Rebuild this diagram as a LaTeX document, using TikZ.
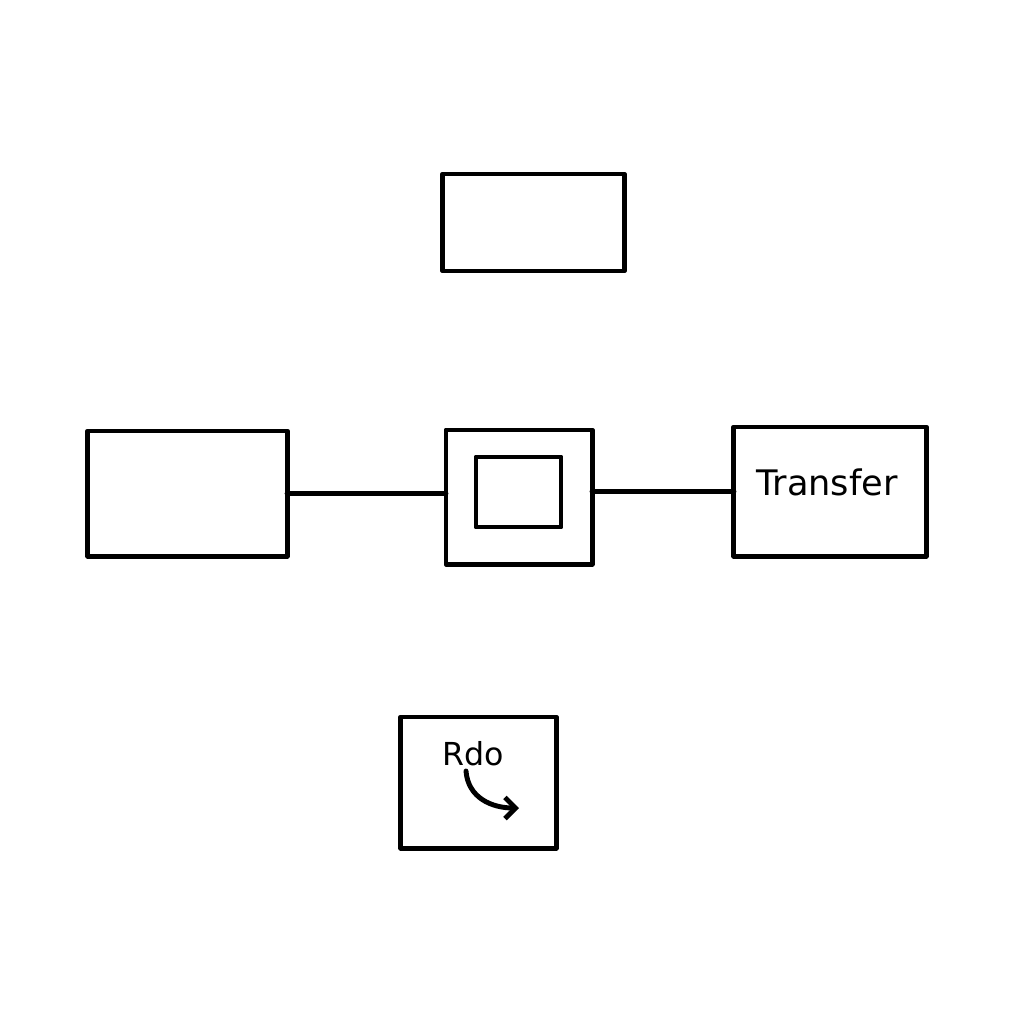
\documentclass[tikz,border=0pt]{standalone}
\usepackage{fontspec}
\setsansfont{DejaVu Sans}
\usetikzlibrary{positioning,arrows.meta}

\tikzset{box/.style={draw, line width=1.4pt, line join=round, inner sep=0pt, outer sep=0pt},
         link/.style={line width=1.4pt, line cap=round}}

\begin{document}
\begin{tikzpicture}[x=0.01cm,y=-0.01cm,every node/.append style={font=\sffamily\fontsize{10}{12}\selectfont}]
    \useasboundingbox (0,0) rectangle (1024,1024);
    % boxes
    \node[box, minimum width=1.81cm, minimum height=0.97cm] (top) at (533.5,222.5) {};
    \node[box, minimum width=1.99cm, minimum height=1.25cm] (left) at (187.5,493.5) {};
    \node[box, minimum width=1.46cm, minimum height=1.34cm] (hub) at (519,497) {};
    \node[box, minimum width=0.85cm, minimum height=0.70cm] (hubin) at (518.5,492) {};
    \node[box, minimum width=1.92cm, minimum height=1.29cm] (transfer) at (830,491.5) {};
    \node[box, minimum width=1.55cm, minimum height=1.31cm] (rdo) at (478.5,782.5) {};
    % labels
    \node (transferlabel) at (827,482) {Transfer};
    \node[font=\sffamily\fontsize{9}{11}\selectfont] (rdolabel) at (473,754) {Rdo};
    % connectors
    \draw[link] (left.east) -- (left.east -| hub.west);
    \draw[link] (transfer.west -| hub.east) -- (transfer.west);
    \coordinate (rdoarrowstart) at (466,771);
    \coordinate (rdoarrowend) at (519,808);
    \draw[link, -{Straight Barb[length=3pt,width=6pt]}] (rdoarrowstart) .. controls (468,798) and (492,808) .. (rdoarrowend);
\end{tikzpicture}
\end{document}
